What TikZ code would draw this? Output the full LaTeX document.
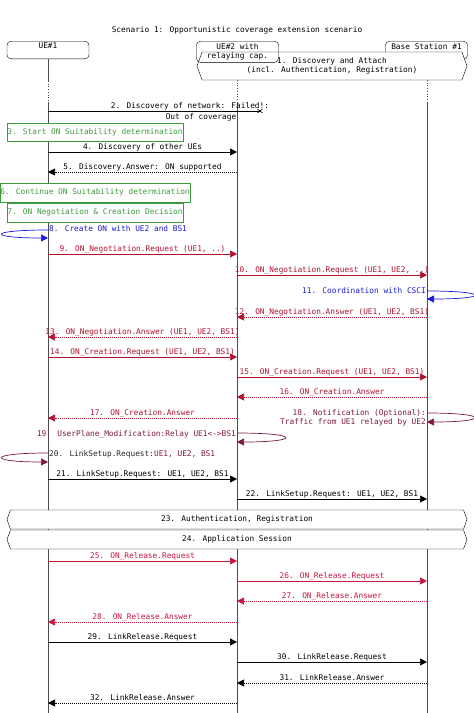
\documentclass[tikz,border=0pt]{standalone}
\usepackage{fontspec}
\newfontfamily\mscfont{DejaVu Sans Mono}
\usetikzlibrary{arrows.meta,shapes.symbols,calc}
\definecolor{onblue}{HTML}{1A1AD8}
\definecolor{ongreen}{HTML}{3C9A3C}
\definecolor{negred}{HTML}{B0122E}
\definecolor{relmaroon}{HTML}{7C1A3C}
\definecolor{relred}{HTML}{C8163E}
\colorlet{lifecol}{black!70}

\tikzset{
  every node/.style={font=\mscfont\fontsize{7.8}{9.6}\selectfont},
  header/.style={draw, rounded corners=4pt, minimum width=82pt, inner sep=2pt, align=center, anchor=north},
  hexbox/.style={draw, fill=white, signal, signal to=west and east, signal pointer angle=140, align=center, inner sep=1pt},
  actbox/.style={draw=ongreen, fill=white, text=ongreen, minimum width=176pt, minimum height=18.5pt, inner sep=0pt},
  msg/.style={line width=0.7pt, -{Triangle[length=7pt,width=7pt]}},
  ans/.style={msg, dash pattern=on 1pt off 1pt},
  lbl/.style={text height=6pt, text depth=1.5pt, inner sep=1pt},
  lifeline/.style={lifecol, line width=0.7pt}
}

\begin{document}
\begin{tikzpicture}[x=1pt,y=-1pt]
  \useasboundingbox (0,0) rectangle (474,713);

  \node (title) at (237,30) {Scenario 1: Opportunistic coverage extension scenario};

  % entities
  \node[header, text depth=8pt] (ue1) at (48,41) {UE\#1};
  \node[header, text depth=8pt] (bs) at (426.5,41) {Base Station \#1};
  \coordinate (ue2l) at (237,0);
  \coordinate (bsl) at (427,0);

  % lifelines
  \draw[lifeline] (ue1.south) -- (ue1 |- 0,81);
  \draw[lifeline, dotted] (ue1 |- 0,81) -- (ue1 |- 0,102);
  \draw[lifeline] (ue1 |- 0,102) -- (ue1 |- 0,713);
  \draw[lifeline, dotted] (ue2l |- 0,80) -- (ue2l |- 0,102);
  \draw[lifeline] (ue2l |- 0,102) -- (ue2l |- 0,713);
  \draw[lifeline, dotted] (bsl |- 0,80) -- (bsl |- 0,102);
  \draw[lifeline] (bsl |- 0,102) -- (bsl |- 0,713);

  \node[hexbox, minimum width=270pt, minimum height=28pt] (disc) at (332,66)
    {1. Discovery and Attach\\(incl. Authentication, Registration)};
  \node[header] (ue2) at (237.5,41) {UE\#2 with\\relaying cap.};

  % 2. lost message
  \coordinate (lost) at (260,111);
  \draw[line width=0.7pt] (ue1 |- 0,111) -- (lost);
  \draw[line width=0.6pt] (lost) ++(-2.5,-2) -- ++(5,4) (lost) ++(-2.5,2) -- ++(5,-4);
  \node[lbl] (m2a) at (190,106) {2. Discovery of network: Failed!:};
  \node[lbl] (m2b) at (201,117) {Out of coverage};

  \node[actbox] (act3) at (95,132) {3. Start ON Suitability determination};

  \draw[msg] (ue1 |- 0,152) -- (ue2l |- 0,152) node[lbl, midway, above] {4. Discovery of other UEs};
  \draw[ans] (ue2l |- 0,172) -- (ue1 |- 0,172) node[lbl, midway, above] {5. Discovery.Answer: ON supported};

  \node[actbox] (act6) at (95,192.5) {6. Continue ON Suitability determination};
  \node[actbox] (act7) at (95,212.5) {7. ON Negotiation \& Creation Decision};

  % 8. self loop on UE#1
  \draw[msg, onblue] (ue1 |- 0,230) .. controls +(-61,0) and +(-61,0) .. (ue1 |- 0,238);
  \node[lbl, anchor=west, onblue] (m8) at (ue1 |- 0,229) {8. Create ON with UE2 and BS1};

  \draw[msg, negred] (ue1 |- 0,254) -- (ue2l |- 0,254) node[lbl, midway, above] {9. ON\_Negotiation.Request (UE1, ..)};
  \draw[msg, negred] (ue2l |- 0,275) -- (bsl |- 0,275) node[lbl, midway, above] {10. ON\_Negotiation.Request (UE1, UE2, ..)};

  % 11. self loop on BS
  \draw[msg, onblue] (bsl |- 0,291) .. controls +(63,0) and +(63,0) .. (bsl |- 0,299);
  \node[lbl, anchor=east, onblue] (m11) at (bsl |- 0,291) {11. Coordination with CSCI};

  \draw[ans, negred] (bsl |- 0,317) -- (ue2l |- 0,317) node[lbl, midway, above] {12. ON\_Negotiation.Answer (UE1, UE2, BS1)};
  \draw[ans, negred] (ue2l |- 0,337) -- (ue1 |- 0,337) node[lbl, midway, above] {13. ON\_Negotiation.Answer (UE1, UE2, BS1)};
  \draw[msg, negred] (ue1 |- 0,357) -- (ue2l |- 0,357) node[lbl, midway, above] {14. ON\_Creation.Request (UE1, UE2, BS1)};
  \draw[msg, negred] (ue2l |- 0,377) -- (bsl |- 0,377) node[lbl, midway, above] {15. ON\_Creation.Request (UE1, UE2, BS1)};
  \draw[ans, negred] (bsl |- 0,397) -- (ue2l |- 0,397) node[lbl, midway, above] {16. ON\_Creation.Answer};
  \draw[ans, negred] (ue2l |- 0,418) -- (ue1 |- 0,418) node[lbl, midway, above] {17. ON\_Creation.Answer};

  % 18. notification on BS
  \draw[msg, relmaroon] (bsl |- 0,413) .. controls +(63,0) and +(63,0) .. (bsl |- 0,422);
  \node[anchor=east, align=right, inner sep=1pt, relmaroon] (m18) at (bsl |- 0,418)
    {18. Notification (Optional):\\Traffic from UE1 relayed by UE2};

  % 19. self loop on UE#2
  \draw[msg, relmaroon] (ue2l |- 0,433) .. controls +(64,0) and +(64,0) .. (ue2l |- 0,442);
  \node[lbl, anchor=east, relmaroon] (m19) at (ue2l |- 0,434) {19. UserPlane\_Modification:Relay UE1<->BS1};

  % 20. self loop on UE#1
  \draw[msg, relmaroon] (ue1 |- 0,453) .. controls +(-61,0) and +(-61,0) .. (ue1 |- 0,462);
  \node[lbl, anchor=west, relmaroon] (m20) at (ue1 |- 0,454) {{\color{black!85}20. LinkSetup.Request:}UE1, UE2, BS1};

  \draw[msg] (ue1 |- 0,479) -- (ue2l |- 0,479) node[lbl, midway, above] {21. LinkSetup.Request: UE1, UE2, BS1};
  \draw[msg] (ue2l |- 0,499) -- (bsl |- 0,499) node[lbl, midway, above] {22. LinkSetup.Request: UE1, UE2, BS1};

  \node[hexbox, minimum width=460pt, minimum height=19pt] (auth) at (237,519.5) {23. Authentication, Registration};
  \node[hexbox, minimum width=460pt, minimum height=19pt] (app) at (237,539.5) {24. Application Session};

  \draw[msg, relred] (ue1 |- 0,561) -- (ue2l |- 0,561) node[lbl, midway, above] {25. ON\_Release.Request};
  \draw[msg, relred] (ue2l |- 0,581) -- (bsl |- 0,581) node[lbl, midway, above] {26. ON\_Release.Request};
  \draw[ans, relred] (bsl |- 0,601) -- (ue2l |- 0,601) node[lbl, midway, above] {27. ON\_Release.Answer};
  \draw[ans, relred] (ue2l |- 0,622) -- (ue1 |- 0,622) node[lbl, midway, above] {28. ON\_Release.Answer};

  \draw[msg] (ue1 |- 0,642) -- (ue2l |- 0,642) node[lbl, midway, above] {29. LinkRelease.Request};
  \draw[msg] (ue2l |- 0,662) -- (bsl |- 0,662) node[lbl, midway, above] {30. LinkRelease.Request};
  \draw[ans] (bsl |- 0,683) -- (ue2l |- 0,683) node[lbl, midway, above] {31. LinkRelease.Answer};
  \draw[ans] (ue2l |- 0,703) -- (ue1 |- 0,703) node[lbl, midway, above] {32. LinkRelease.Answer};
\end{tikzpicture}
\end{document}
